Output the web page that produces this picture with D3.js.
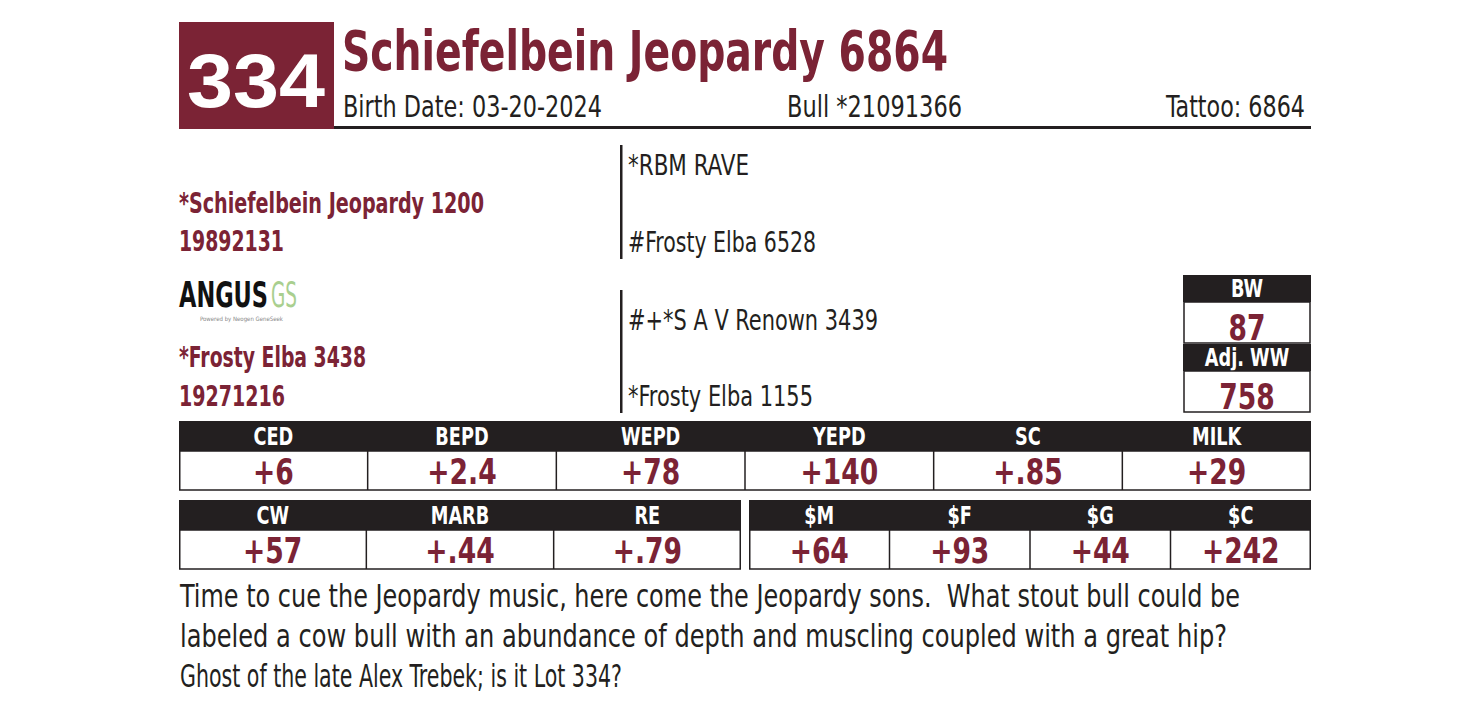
<!DOCTYPE html>
<html>
<head>
<meta charset="utf-8">
<title>Lot 334</title>
<script src="https://cdn.jsdelivr.net/npm/d3@7"></script>
<style>
  body { margin: 0; background: #fff; }
  text { font-family: "DejaVu Sans Condensed", "DejaVu Sans", sans-serif; font-stretch: condensed; }
</style>
</head>
<body>
<svg id="card" width="1480" height="726"></svg>
<script>
var lot = "334",
    title = "Schiefelbein Jeopardy 6864",
    infoLine = ["Birth Date: 03-20-2024", "Bull *21091366", "Tattoo: 6864"],
    sireLines = ["*Schiefelbein Jeopardy 1200", "19892131"],
    damLines = ["*Frosty Elba 3438", "19271216"],
    sireParents = ["*RBM RAVE", "#Frosty Elba 6528"],
    damParents = ["#+*S A V Renown 3439", "*Frosty Elba 1155"],
    weightLabels = ["BW", "Adj. WW"],
    weightValues = ["87", "758"],
    epdLabels = ["CED", "BEPD", "WEPD", "YEPD", "SC", "MILK"],
    epdValues = ["+6", "+2.4", "+78", "+140", "+.85", "+29"],
    carcassLabels = ["CW", "MARB", "RE"],
    carcassValues = ["+57", "+.44", "+.79"],
    indexLabels = ["$M", "$F", "$G", "$C"],
    indexValues = ["+64", "+93", "+44", "+242"],
    blurb = ["Time to cue the Jeopardy music, here come the Jeopardy sons.  What stout bull could be",
             "labeled a cow bull with an abundance of depth and muscling coupled with a great hip?",
             "Ghost of the late Alex Trebek; is it Lot 334?"];

var maroon = "#7b2335", ink = "#231f20";
var svg = d3.select("#card");

// squeeze text horizontally to mimic the condensed face
function squeeze(sel, f) {
    sel.each(function () {
        var w = this.getComputedTextLength();
        d3.select(this).attr("textLength", w * f).attr("lengthAdjust", "spacingAndGlyphs");
    });
}

// header
svg.append("rect").attr("x", 179).attr("y", 22).attr("width", 155).attr("height", 107).attr("fill", maroon);
svg.append("text").attr("x", 256).attr("y", 107).attr("text-anchor", "middle")
    .style("font-family", "Liberation Sans, Arial, sans-serif")
    .attr("font-size", 76).attr("font-weight", "bold").attr("fill", "#fff")
    .attr("textLength", 138).attr("lengthAdjust", "spacingAndGlyphs").text(lot);
svg.append("text").attr("x", 342).attr("y", 70).attr("font-size", 56).attr("font-weight", "bold")
    .attr("fill", maroon).attr("textLength", 606).attr("lengthAdjust", "spacingAndGlyphs").text(title);
var infoX = [343, 787, 1166], infoW = [259, 175, 139];
svg.selectAll("text.info").data(infoLine).enter().append("text")
    .attr("x", function (d, i) { return infoX[i]; })
    .attr("y", 117).attr("font-size", 30).attr("fill", ink)
    .attr("textLength", function (d, i) { return infoW[i]; }).attr("lengthAdjust", "spacingAndGlyphs")
    .text(function (d) { return d; });
svg.append("rect").attr("x", 334).attr("y", 126).attr("width", 977).attr("height", 3).attr("fill", ink);

// pedigree
function lines(arr, x, ys, widths, bold) {
    svg.selectAll(null).data(arr).enter().append("text")
        .attr("x", x).attr("y", function (d, i) { return ys[i]; })
        .attr("font-size", 29).attr("font-weight", bold ? "bold" : "normal")
        .attr("textLength", function (d, i) { return widths[i]; }).attr("lengthAdjust", "spacingAndGlyphs")
        .attr("fill", bold ? maroon : ink).text(function (d) { return d; });
}
lines(sireLines, 179, [213, 251], [305, 105], true);
lines(damLines, 179, [367, 406], [187, 106], true);
lines(sireParents, 628, [175, 252], [121, 188], false);
lines(damParents, 628, [330, 406], [250, 185], false);
svg.append("rect").attr("x", 620).attr("y", 145).attr("width", 2.5).attr("height", 114).attr("fill", ink);
svg.append("rect").attr("x", 620).attr("y", 290).attr("width", 2.5).attr("height", 123).attr("fill", ink);

// logo
svg.append("text").attr("x", 179).attr("y", 307).attr("font-size", 36).attr("font-weight", "bold")
    .attr("fill", "#111").attr("textLength", 89).attr("lengthAdjust", "spacingAndGlyphs").text("ANGUS");
svg.append("text").attr("x", 271).attr("y", 307).attr("font-size", 36)
    .attr("fill", "#a9cf8f").attr("textLength", 26).attr("lengthAdjust", "spacingAndGlyphs").text("GS");
svg.append("text").attr("x", 200).attr("y", 321).attr("font-size", 6).attr("fill", "#888")
    .text("Powered by Neogen GeneSeek");

// weight boxes
var wy = d3.scaleBand().domain(weightLabels).range([275, 413]);
weightLabels.forEach(function (lab, i) {
    var y0 = wy(lab), h = wy.bandwidth();
    svg.append("rect").attr("x", 1183).attr("y", y0).attr("width", 128).attr("height", 27).attr("fill", ink);
    svg.append("text").attr("x", 1247).attr("y", y0 + 22).attr("text-anchor", "middle")
        .attr("font-size", 24).attr("font-weight", "bold").attr("fill", "#fff").text(lab).call(squeeze, 0.82);
    svg.append("rect").attr("x", 1184).attr("y", y0 + 27).attr("width", 126).attr("height", h - 28)
        .attr("fill", "none").attr("stroke", ink).attr("stroke-width", 1.5);
    svg.append("text").attr("x", 1247).attr("y", y0 + h - 4).attr("text-anchor", "middle")
        .attr("font-size", 36).attr("font-weight", "bold").attr("fill", maroon).text(weightValues[i]).call(squeeze, 0.82);
});

// epd tables
function table(labels, values, x0, x1, y0) {
    var x = d3.scaleBand().domain(labels).range([x0, x1]);
    svg.append("rect").attr("x", x0).attr("y", y0).attr("width", x1 - x0).attr("height", 30).attr("fill", ink);
    svg.append("rect").attr("x", x0 + 0.75).attr("y", y0 + 30).attr("width", x1 - x0 - 1.5).attr("height", 39)
        .attr("fill", "none").attr("stroke", ink).attr("stroke-width", 1.5);
    var g = svg.selectAll(null).data(labels).enter().append("g");
    g.append("text").attr("x", function (d) { return x(d) + x.bandwidth() / 2; }).attr("y", y0 + 24)
        .attr("text-anchor", "middle").attr("font-size", 24).attr("font-weight", "bold").attr("fill", "#fff")
        .text(function (d) { return d; }).call(squeeze, 0.82);
    g.append("text").attr("x", function (d) { return x(d) + x.bandwidth() / 2; }).attr("y", y0 + 63)
        .attr("text-anchor", "middle").attr("font-size", 36).attr("font-weight", "bold").attr("fill", maroon)
        .text(function (d, i) { return values[i]; }).call(squeeze, 0.82);
    g.filter(function (d, i) { return i > 0; }).append("line")
        .attr("x1", function (d) { return x(d); }).attr("x2", function (d) { return x(d); })
        .attr("y1", y0 + 30).attr("y2", y0 + 69).attr("stroke", ink).attr("stroke-width", 1.5);
}
table(epdLabels, epdValues, 179, 1311, 421);
table(carcassLabels, carcassValues, 179, 741, 500);
table(indexLabels, indexValues, 749, 1311, 500);

// blurb
var blurbW = [1060, 1047, 442];
svg.selectAll("text.blurb").data(blurb).enter().append("text")
    .attr("x", 180).attr("y", function (d, i) { return 607 + i * 40; })
    .attr("font-size", 32).attr("fill", ink).style("white-space", "pre")
    .attr("textLength", function (d, i) { return blurbW[i]; }).attr("lengthAdjust", "spacingAndGlyphs")
    .text(function (d) { return d; });
</script>
</body>
</html>
